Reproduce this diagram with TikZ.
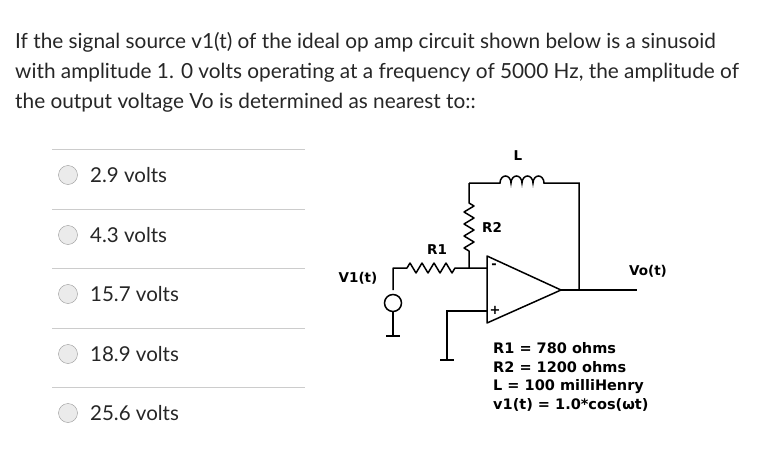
\documentclass[tikz,border=0pt]{standalone}
\usepackage{fontspec}
\setmainfont{Lato}
\newfontfamily\ckt{DejaVu Sans}
\begin{document}
\begin{tikzpicture}[x=1pt,y=-1pt,
  q/.style={anchor=base west,font=\fontsize{20.8}{24}\selectfont,text=black!85,inner sep=0},
  opt/.style={anchor=west,font=\fontsize{20.5}{24}\selectfont,text=black!85,inner sep=0},
  rad/.style={circle,draw=black!40,fill=black!8,minimum size=19pt,inner sep=0},
  sep/.style={draw=black!20,line width=1pt},
  w/.style={line width=1.5pt},
  lb/.style={font=\ckt\bfseries\fontsize{13.5}{15}\selectfont,inner sep=0},
  par/.style={font=\ckt\bfseries\fontsize{14.5}{17}\selectfont,inner sep=0,anchor=base west}]
\useasboundingbox (0,0) rectangle (761,452);
\fill[white] (0,0) rectangle (761,452);
\node[q] (t1) at (15,49) {If the signal source v1(t) of the ideal op amp circuit shown below is a sinusoid};
\node[q] (t2) at (15,79) {with amplitude 1. 0 volts operating at a frequency of 5000 Hz, the amplitude of};
\node[q] (t3) at (15,109) {the output voltage Vo is determined as nearest to::};
\foreach \y/\t [count=\i] in {175/2.9 volts,235/4.3 volts,294/15.7 volts,354/18.9 volts,413/25.6 volts}{
  \draw[sep] (52,\y-26) -- (305,\y-26);
  \node[rad] (r\i) at (68,\y) {};
  \node[opt] (o\i) at (90,\y) {\t};
}
% circuit
\coordinate (jn) at (469,268);
\coordinate (tl) at (469,183);
\coordinate (tr) at (579,183);
\coordinate (out) at (579,290);
\coordinate (vo) at (637,290);
\coordinate (a) at (561,290);
\coordinate (ip) at (487,311);
\coordinate (im) at (487,268);
\draw[w,line join=round] (487,256) -- (561,290) -- (487,323) -- cycle;
\node[font=\ckt\bfseries\fontsize{13}{15}\selectfont] (mi) at (494,266) {-};
\node[font=\ckt\bfseries\fontsize{13}{15}\selectfont] (pl) at (495,310) {+};
% inductor
\draw[w] (tl) -- (500,183)
  arc(180:360:5.5 and 7) arc(180:360:5.5 and 7) arc(180:360:5.5 and 7) arc(180:360:5.5 and 7)
  -- (tr) -- (out);
\node[lb] (Ll) at (518,156) {L};
% R2
\draw[w,line join=round] (tl) -- (469,203) -- (474,206) -- (464,212) -- (474,218) -- (464,224) -- (474,230) -- (464,236) -- (474,242) -- (464,248) -- (469,251) -- (jn);
\node[lb] (R2l) at (492,227) {R2};
% R1
\draw[w,line join=round] (393,290) -- (393,268) -- (407,268) -- (410,263) -- (416,273) -- (422,263) -- (428,273) -- (434,263) -- (440,273) -- (446,263) -- (452,273) -- (455,268) -- (im);
\node[lb] (R1l) at (437,250) {R1};
\node[lb] (V1l) at (358,278) {V1(t)};
% source
\node[circle,draw,w,minimum size=17pt,inner sep=0] (src) at (393,303) {};
\draw[w] (src.south) -- (393,336);
\draw[w] (386,336) -- (400,336);
% plus ground
\draw[w] (ip) -- (447,311) -- (447,360);
\draw[w] (440,360) -- (454,360);
% output
\draw[w] (a) -- (vo);
\node[lb] (vol) at (648,271) {Vo(t)};
\node[par] (p1) at (493,353) {R1 = 780 ohms};
\node[par] (p2) at (493,372) {R2 = 1200 ohms};
\node[par] (p3) at (493,390) {L = 100 milliHenry};
\node[par] (p4) at (493,409) {v1(t) = 1.0*cos(ωt)};
\end{tikzpicture}
\end{document}
